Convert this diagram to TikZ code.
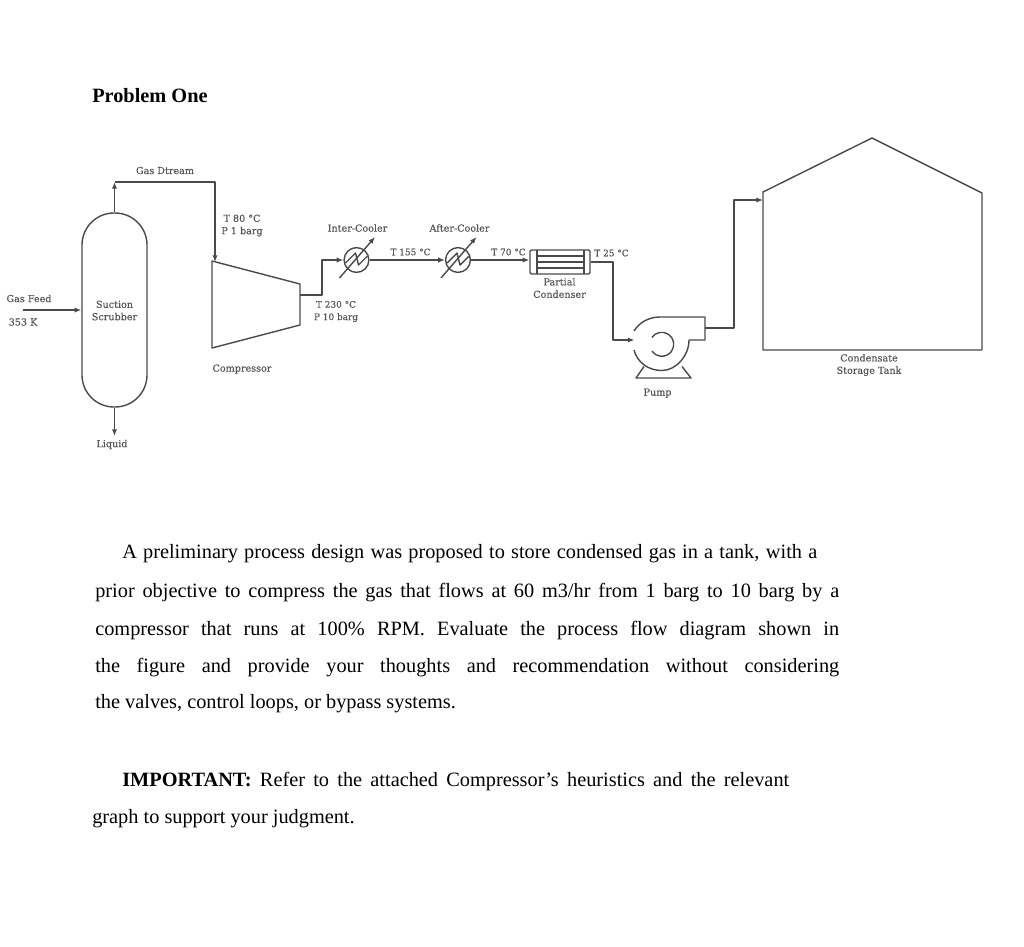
\documentclass[tikz,border=0pt]{standalone}
\usepackage{fontspec}
\setmainfont{Liberation Serif}
\newfontfamily\lblfont[FakeBold=0.25]{DejaVu Serif}
\usetikzlibrary{arrows.meta}
\definecolor{ink}{HTML}{4A4A4A}
\definecolor{lbl}{HTML}{555555}
\newcommand{\jline}[2]{\makebox[#1][s]{#2}}
\tikzset{
  pipe/.style={draw=ink,line width=1.05pt,line join=round},
  flow/.style={pipe,-{Latex[length=5pt,width=4pt]}},
  equip/.style={draw=ink,line width=1.05pt,line join=round},
  lab/.style={text=lbl,font=\lblfont\fontsize{7.2}{9.3}\selectfont,align=center,inner sep=0pt},
  tlab/.style={lab,font=\lblfont\fontsize{6.7}{9.3}\selectfont},
  body/.style={text=black,font=\fontsize{15.24}{17}\selectfont,anchor=base west,inner sep=0pt},
}
\begin{document}
\begin{tikzpicture}[x=0.75pt,y=-0.75pt]
\useasboundingbox[fill=white] (0,0) rectangle (1024,946);
\node[body,font=\fontsize{15.24}{17}\selectfont\bfseries] (title) at (92,102) {Problem One};
% scrubber
\node[equip,minimum width=48.75pt,minimum height=145.5pt,rounded corners=24pt,inner sep=0pt] (scrub) at (114.5,310) {};
\node[lab] (scrubl) at (114.5,310.5) {Suction\\Scrubber};
\coordinate (feed) at (23,310);
\node[lab] (feedl) at (29,298.5) {Gas Feed};
\node[lab] (feedk) at (23,322) {353 K};
\draw[flow] (feed) -- (scrub.west);
\coordinate (liq) at (114.5,436);
\draw[flow] (scrub.south) -- (liq);
\node[lab] (liql) at (112,444.5) {Liquid};
% compressor
\coordinate (c1) at (212,261); \coordinate (c2) at (300,284);
\coordinate (c3) at (300,325); \coordinate (c4) at (212,348);
\coordinate (cin) at (215,262); \coordinate (cout) at (300,295);
\draw[equip] (c1) -- (c2) -- (c3) -- (c4) -- cycle;
\node[lab] (compl) at (242,369) {Compressor};
\coordinate (top1) at (114.5,182); \coordinate (top2) at (215,182);
\draw[flow] (scrub.north) -- (top1);
\draw[flow] (top1) -- (top2) -- (cin);
\node[lab] (dtr) at (165,170.5) {Gas Dtream};
\node[lab] (t80) at (242,225.5) {T 80 °C\\P 1 barg};
% coolers
\foreach \n/\cx in {ic/356.5,ac/458}{
  \node[equip,circle,minimum size=18.6pt,inner sep=0pt] (\n) at (\cx,260) {};
  \draw[equip,-{Latex[length=5pt,width=4pt]}] (\cx-17,278) -- (\cx+18.5,237);
  \draw[equip] (\cx-11,263) -- (\cx-1,253) -- (\cx+2,265) -- (\cx+11,256);
}
\node[lab] (icl) at (357.5,228) {Inter-Cooler};
\node[lab] (acl) at (459.5,228) {After-Cooler};
\coordinate (k1) at (322,295); \coordinate (k2) at (322,260);
\draw[flow] (cout) -- (k1) -- (k2) -- (ic.west);
\draw[flow] (ic.east) -- (ac.west);
\node[tlab] (t155) at (410.5,252) {T 155 °C};
\node[tlab] (t230) at (336,311.5) {T 230 °C\\P 10 barg};
% condenser
\node[equip,rectangle,rounded corners=1pt,minimum width=45pt,minimum height=18pt,inner sep=0pt] (cond) at (560,262) {};
\draw[flow] (ac.east) -- (ac.east -| cond.west);
\foreach \x in {537,584} \draw[equip] (\x,250) -- (\x,274);
\draw[equip] (537,256) -- (584,256) (537,262) -- (584,262) (537,268) -- (584,268);
\node[tlab] (t70) at (508.5,252) {T 70 °C};
\node[lab] (condl) at (559.5,288) {Partial\\Condenser};
\node[tlab] (t25) at (611.5,253) {T 25 °C};
% pump
\coordinate (pin) at (634.5,340);
\coordinate (pout) at (705,328);
\draw[equip] (634,331) .. controls (639,323) and (648,317) .. (660,317) -- (705,317) -- (705,340) -- (689,340)
  .. controls (689,356) and (676,370.5) .. (661.7,370.5) .. controls (648,370.5) and (637,362) .. (634,350);
\draw[equip] (651.9,337.4) arc[start angle=145,end angle=-145,radius=9pt];
\draw[equip] (644,366.5) -- (636,378) -- (691,378) -- (682,366.5);
\node[lab] (pumpl) at (657.5,393) {Pump};
\coordinate (p1) at (613,262); \coordinate (p2) at (613,340);
\draw[flow] (cond.east |- p1) -- (p1) -- (p2) -- (pin);
% tank
\coordinate (t1) at (763,350); \coordinate (t2) at (763,192);
\coordinate (t3) at (872,138); \coordinate (t4) at (982,193); \coordinate (t5) at (982,350);
\draw[equip] (t1) -- (t2) -- (t3) -- (t4) -- (t5) -- cycle;
\coordinate (tin) at (763,200);
\coordinate (o1) at (734,328); \coordinate (o2) at (734,200);
\draw[flow] (pout) -- (o1) -- (o2) -- (tin);
\node[lab] (tankl) at (869,365) {Condensate\\Storage Tank};
% text
\node[body] (l1) at (122,558) {\jline{521.25pt}{A preliminary process design was proposed to store condensed gas in a tank, with a}};
\node[body] (l2) at (95,597) {\jline{558pt}{prior objective to compress the gas that flows at 60 m3/hr from 1 barg to 10 barg by a}};
\node[body] (l3) at (95,635) {\jline{558pt}{compressor that runs at 100\% RPM. Evaluate the process flow diagram shown in}};
\node[body] (l4) at (95,672) {\jline{558pt}{the figure and provide your thoughts and recommendation without considering}};
\node[body] (l5) at (95,708) {the valves, control loops, or bypass systems.};
\node[body] (l6) at (122,786) {\jline{500.25pt}{\textbf{IMPORTANT:} Refer to the attached Compressor’s heuristics and the relevant}};
\node[body] (l7) at (92,823) {graph to support your judgment.};
\end{tikzpicture}
\end{document}
